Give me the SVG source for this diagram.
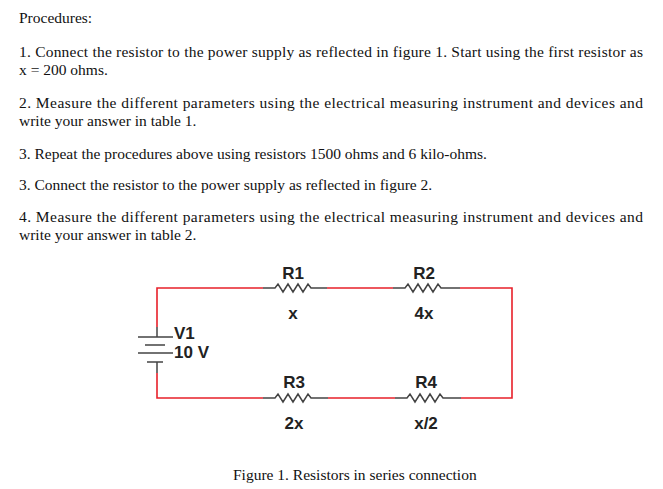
<svg xmlns="http://www.w3.org/2000/svg" width="663" height="489" viewBox="0 0 663 489">
<style>
.t{font-family:"Liberation Serif",serif;font-size:15.5px;fill:#111}
.l{font-family:"Liberation Sans",Arial,sans-serif;font-size:17px;font-weight:bold;fill:#222}
.w{stroke:#e8202a;stroke-width:1.6;fill:none}
.k{stroke:#444;stroke-width:1.5;fill:none}
</style>
<rect width="663" height="489" fill="#fff"/>
<text class="t" x="19" y="23">Procedures:</text>
<text class="t" x="19" y="57" textLength="624" lengthAdjust="spacing">1. Connect the resistor to the power supply as reflected in figure 1. Start using the first resistor as</text>
<text class="t" x="19" y="75">x = 200 ohms.</text>
<text class="t" x="19" y="108" textLength="624" lengthAdjust="spacing">2. Measure the different parameters using the electrical measuring instrument and devices and</text>
<text class="t" x="19" y="126">write your answer in table 1.</text>
<text class="t" x="19" y="159">3. Repeat the procedures above using resistors 1500 ohms and 6 kilo-ohms.</text>
<text class="t" x="19" y="190">3. Connect the resistor to the power supply as reflected in figure 2.</text>
<text class="t" x="19" y="222" textLength="624" lengthAdjust="spacing">4. Measure the different parameters using the electrical measuring instrument and devices and</text>
<text class="t" x="19" y="240">write your answer in table 2.</text>
<g id="connectors">
<path class="w" d="M157 327V288H263M327 288H393M460 288H512V398H461M395 398H328M263 398H157V373"/>
</g>
<g id="V1">
<path class="k" d="M157 327V337M138 337H173M145 345H165M138 353H173M147 362H163M157 362V373"/>
<text class="l" x="174" y="339">V1</text>
<text class="l" x="174" y="358">10 V</text>
</g>
<g id="R1">
<path class="k" d="M263 288H275l3-4 5 8 5-8 5 8 5-8 5 8 5-8 3 4H327"/>
<text class="l" x="293" y="279" text-anchor="middle">R1</text>
<text class="l" x="293" y="319" text-anchor="middle">x</text>
</g>
<g id="R2">
<path class="k" d="M393 288H405l3-4 5 8 5-8 5 8 5-8 5 8 5-8 3 4H460"/>
<text class="l" x="424" y="279" text-anchor="middle">R2</text>
<text class="l" x="424" y="319" text-anchor="middle">4x</text>
</g>
<g id="R3">
<path class="k" d="M263 398H275l3-4 5 8 5-8 5 8 5-8 5 8 5-8 3 4H328"/>
<text class="l" x="294" y="388" text-anchor="middle">R3</text>
<text class="l" x="294" y="429" text-anchor="middle">2x</text>
</g>
<g id="R4">
<path class="k" d="M395 398H407l3-4 5 8 5-8 5 8 5-8 5 8 5-8 3 4H461"/>
<text class="l" x="426" y="388" text-anchor="middle">R4</text>
<text class="l" x="426" y="429" text-anchor="middle">x/2</text>
</g>
<text class="t" x="233" y="480">Figure 1. Resistors in series connection</text>
</svg>
